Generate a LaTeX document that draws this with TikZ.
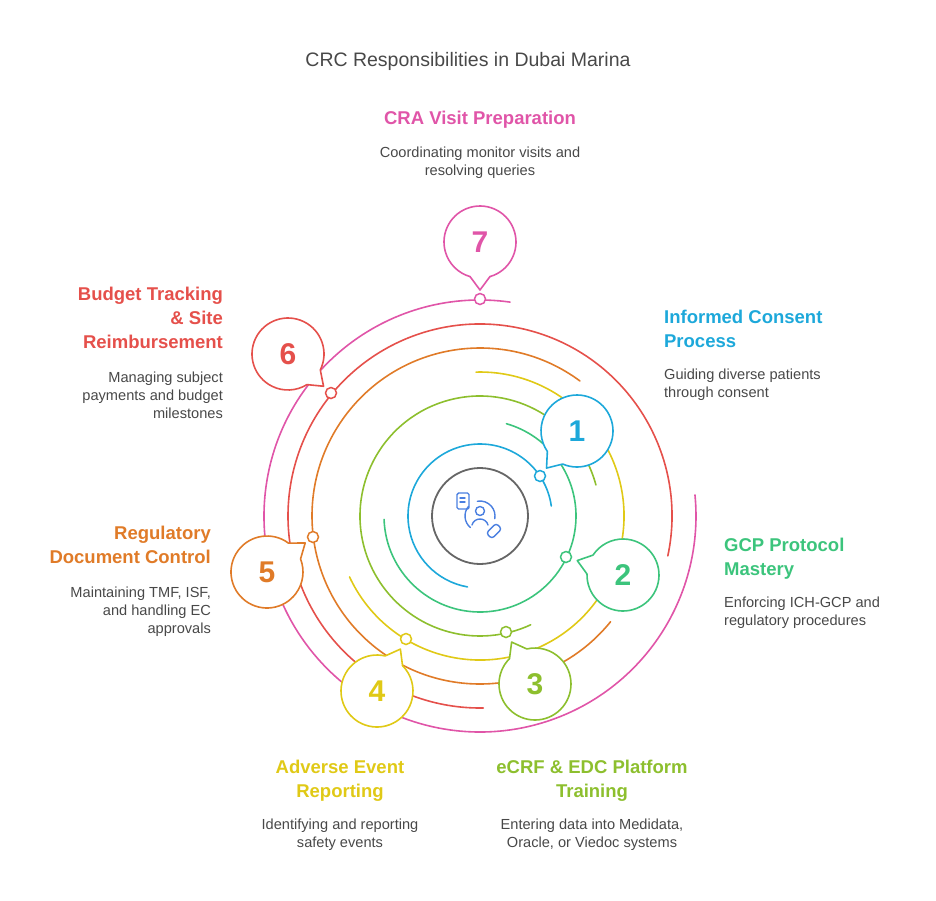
\documentclass[tikz,border=0pt]{standalone}
\usepackage{fontspec}
\setmainfont{Liberation Sans}
\usetikzlibrary{calc}
\begin{document}
\definecolor{cb}{HTML}{1DA8DA}
\definecolor{cg}{HTML}{3CC47C}
\definecolor{co}{HTML}{8DBF2E}
\definecolor{cy}{HTML}{E0C916}
\definecolor{cor}{HTML}{E07B28}
\definecolor{cr}{HTML}{E5504B}
\definecolor{cp}{HTML}{E055A8}
\definecolor{txt}{HTML}{484848}
\definecolor{ic}{HTML}{4A7FE0}
\begin{tikzpicture}[x=1pt,y=1pt,line width=1.6pt,
  ring/.style={line cap=round},
  dot/.style={fill=white,line width=1.5pt},
  num/.style={font=\fontsize{30}{30}\selectfont\bfseries},
  head/.style={font=\fontsize{18.5}{24}\selectfont\bfseries},
  desc/.style={font=\fontsize{14.6}{18}\selectfont,text=txt}]
\useasboundingbox (0,0) rectangle (936,-900);
\coordinate (O) at (480,-516);
% rings: color, radius, start, end
\foreach \c/\r/\s/\e in {cb/72/8/260, cg/96/-178/74, co/120/15/295, cy/144/-155/91.6, cor/168/53.5/321, cr/192/-12/271, cp/216/82/365.6}
  \draw[ring,\c] (O) ++(\s:\r) arc[start angle=\s, end angle=\e, radius=\r];
\draw[gray!80!black,line width=1.8pt] (O) circle[radius=48];
% icon
\begin{scope}[ic,line width=1.4pt,line cap=round,line join=round]
 \draw[rounded corners=1.5pt] (457,-493) rectangle (469,-509);
 \draw (460,-498)--(465,-498) (460,-502)--(465,-502);
 \draw (480,-511) circle[radius=4.5];
 \draw (472,-525) .. controls (474,-517) and (486,-517) .. (488,-525);
 \draw (480,-516) ++(140:15) arc[start angle=140,end angle=230,radius=15];
 \draw (480,-516) ++(100:15) arc[start angle=100,end angle=-10,radius=15];
 \draw[rounded corners=3pt,rotate around={45:(494,-531)}] (487,-527) rectangle (501,-535);
\end{scope}
% badges: color, center, dot, number
\foreach \c/\bx/\by/\dx/\dy/\n in {cb/577/431/540/476/1, cg/623/575/566/557/2, co/535/684/506/632/3, cy/377/691/406/639/4, cor/267/572/313/537/5, cr/288/354/331/393/6, cp/480/242/480/299/7}{
  \pgfmathsetmacro{\ang}{atan2(-(\dy-\by),\dx-\bx)}
  \draw[\c,fill=white,line join=round] (\bx,-\by) ++(\ang+16:36) arc[start angle=\ang+16, end angle=\ang+344, radius=36] -- ($(\bx,-\by)+(\ang:48)$) -- cycle;
  \node[num,text=\c] (n\n) at (\bx,-\by) {\n};
  \draw[\c,dot] (\dx,-\dy) circle[radius=5.5];
}
% texts
\node[font=\fontsize{19.5}{22}\selectfont,text=txt] (title) at (468,-61) {CRC Responsibilities in Dubai Marina};
\node[head,text=cp,align=center] (h7) at (480,-120) {CRA Visit Preparation};
\node[desc,align=center,anchor=north] (d7) at (480,-143) {Coordinating monitor visits and\\resolving queries};
\node[head,text=cr,align=right,anchor=north east] (h6) at (227,-283) {Budget Tracking\\\& Site\\Reimbursement};
\node[desc,align=right,anchor=north east] (d6) at (227,-368) {Managing subject\\payments and budget\\milestones};
\node[head,text=cb,align=left,anchor=north west] (h1) at (660,-306) {Informed Consent\\Process};
\node[desc,align=left,anchor=north west] (d1) at (660,-365) {Guiding diverse patients\\through consent};
\node[head,text=cg,align=left,anchor=north west] (h2) at (720,-534) {GCP Protocol\\Mastery};
\node[desc,align=left,anchor=north west] (d2) at (720,-593) {Enforcing ICH-GCP and\\regulatory procedures};
\node[head,text=cor,align=right,anchor=north east] (h5) at (215,-522) {Regulatory\\Document Control};
\node[desc,align=right,anchor=north east] (d5) at (215,-583) {Maintaining TMF, ISF,\\and handling EC\\approvals};
\node[head,text=cy,align=center,anchor=north] (h4) at (340,-756) {Adverse Event\\Reporting};
\node[desc,align=center,anchor=north] (d4) at (340,-815) {Identifying and reporting\\safety events};
\node[head,text=co,align=center,anchor=north] (h3) at (592,-756) {eCRF \& EDC Platform\\Training};
\node[desc,align=center,anchor=north] (d3) at (592,-815) {Entering data into Medidata,\\Oracle, or Viedoc systems};
\end{tikzpicture}
\end{document}
